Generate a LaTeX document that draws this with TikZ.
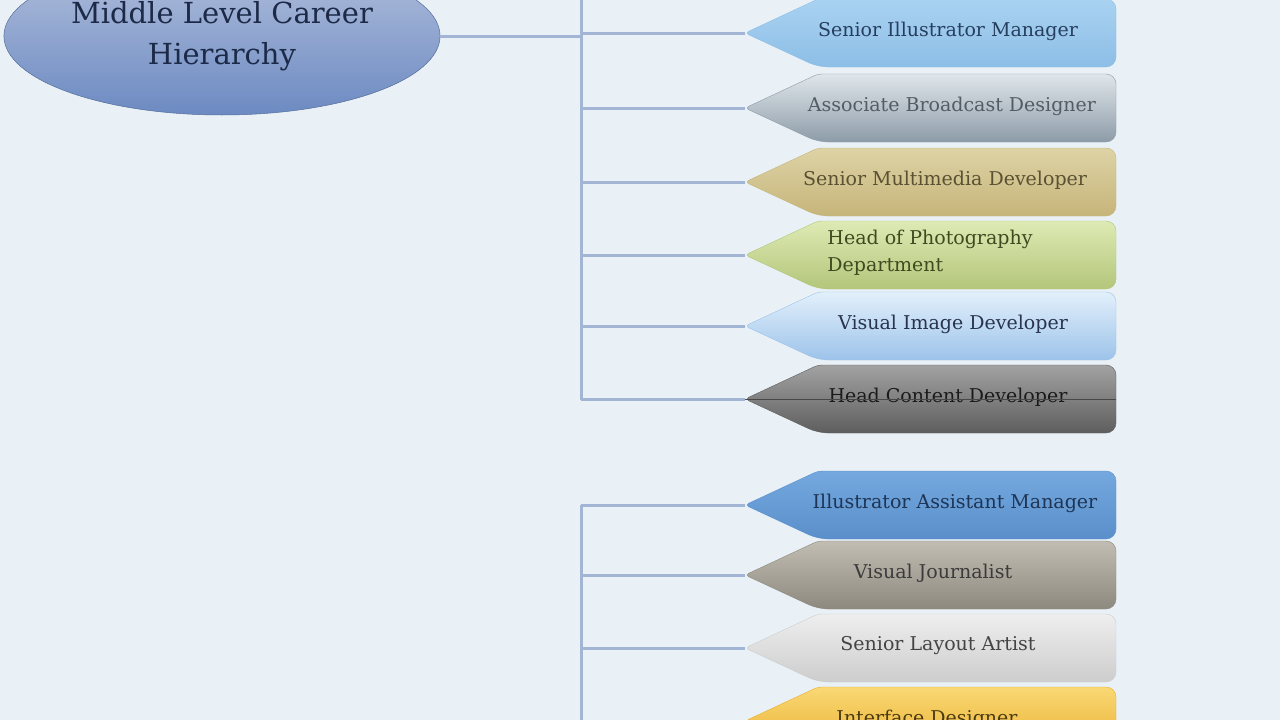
\documentclass[tikz,border=0pt]{standalone}
\usepackage{fontspec}
\setmainfont{DejaVu Serif}
\usetikzlibrary{shapes.geometric, positioning}

\definecolor{bg}{HTML}{E9F1F6}
\definecolor{linkc}{HTML}{A3B5D5}
\definecolor{hubT}{HTML}{B3C0DC}
\definecolor{hubB}{HTML}{6C8AC2}
\definecolor{hubF}{HTML}{1C2A48}
\definecolor{simT}{HTML}{A9D2F1}
\definecolor{simB}{HTML}{8DBEE6}
\definecolor{simF}{HTML}{263F5E}
\definecolor{abdT}{HTML}{E0E6EB}
\definecolor{abdB}{HTML}{8D9CA8}
\definecolor{abdF}{HTML}{555B63}
\definecolor{smdT}{HTML}{DED3A6}
\definecolor{smdB}{HTML}{C6B57A}
\definecolor{smdF}{HTML}{5A5132}
\definecolor{hpdT}{HTML}{DEEAB4}
\definecolor{hpdB}{HTML}{B3C67A}
\definecolor{hpdF}{HTML}{3E4A20}
\definecolor{vidT}{HTML}{E2F0FB}
\definecolor{vidB}{HTML}{9DC3EA}
\definecolor{vidF}{HTML}{28344F}
\definecolor{hcdT}{HTML}{A2A2A2}
\definecolor{hcdB}{HTML}{5E5E5E}
\definecolor{hcdF}{HTML}{1A1A1A}
\definecolor{iamT}{HTML}{74A8DE}
\definecolor{iamB}{HTML}{5A8FCB}
\definecolor{iamF}{HTML}{1E3555}
\definecolor{vjoT}{HTML}{C2BDB3}
\definecolor{vjoB}{HTML}{8E897F}
\definecolor{vjoF}{HTML}{3B3B3B}
\definecolor{slaT}{HTML}{EEEEEE}
\definecolor{slaB}{HTML}{CDCDCD}
\definecolor{slaF}{HTML}{444444}
\definecolor{ifdT}{HTML}{F9D874}
\definecolor{ifdB}{HTML}{E9AE2E}
\definecolor{ifdF}{HTML}{4A3A10}

\tikzset{
  link/.style={draw=linkc, line width=3pt},
  hub/.style={ellipse, draw=hubB!80!black, line width=.5pt, top color=hubT, bottom color=hubB,
    text=hubF, align=center, font=\fontsize{29}{41}\selectfont,
    minimum width=431pt, minimum height=158pt},
  tag/.style={align=left, font=\fontsize{19}{27}\selectfont},
}

\begin{document}
\begin{tikzpicture}[x=1pt, y=-1pt]
\useasboundingbox (0,0) rectangle (1280,720);
\clip (0,0) rectangle (1280,720);
\fill[bg] (0,0) rectangle (1280,720);

% hub
\node[hub] (mlc) at (222,36) {Middle Level Career\\Hierarchy};

% spines
\coordinate (top1) at (581,0);
\coordinate (bot1) at (581,400);
\coordinate (top2) at (581,505);
\coordinate (bot2) at (581,730);
\draw[link] (top1) -- (bot1);
\draw[link] (top2) -- (bot2);
\draw[link] (mlc.east) -- (mlc.east -| top1);

% pencils
\foreach \n/\s/\yy/\xx/\ct/\cb/\cf/\txt in {
  sim/top1/33/948/simT/simB/simF/{Senior Illustrator Manager},
  abd/top1/108/952/abdT/abdB/abdF/{Associate Broadcast Designer},
  smd/top1/182/945/smdT/smdB/smdF/{Senior Multimedia Developer},
  hpd/top1/255/930/hpdT/hpdB/hpdF/{Head of Photography\\Department},
  vid/top1/326/953/vidT/vidB/vidF/{Visual Image Developer},
  hcd/top1/399/948/hcdT/hcdB/hcdF/{Head Content Developer},
  iam/top2/505/955/iamT/iamB/iamF/{Illustrator Assistant Manager},
  vjo/top2/575/933/vjoT/vjoB/vjoF/{Visual Journalist},
  sla/top2/648/938/slaT/slaB/slaF/{Senior Layout Artist},
  ifd/top2/721/927/ifdT/ifdB/ifdF/{Interface Designer}}{
  \shade[top color=\ct, bottom color=\cb, draw=\cb, line width=.4pt, rounded corners=4pt]
    (818,\yy+34) -- (745,\yy) -- (818,\yy-34) [rounded corners=10pt] -- (1116,\yy-34)
    -- (1116,\yy+34) -- cycle;
  \coordinate (\n-tip) at (745,\yy);
  \node[tag, text=\cf] (\n) at (\xx,\yy-2) {\txt};
  \draw[link] (\s |- \n-tip) -- (\n-tip);
}
\draw[hcdF!80, line width=1pt] (hcd-tip) -- ++(371,0);
\end{tikzpicture}
\end{document}
